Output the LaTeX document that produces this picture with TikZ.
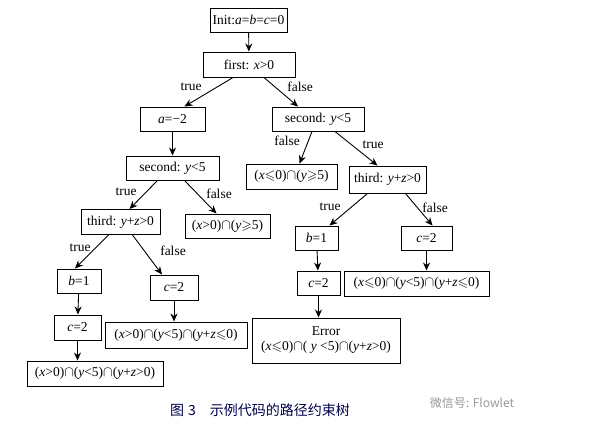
\documentclass[tikz,border=0pt]{standalone}
\usepackage{amssymb}
\usepackage{fontspec}
\setmainfont{Liberation Serif}
\newfontfamily\cjk{Noto Sans CJK SC}
\usetikzlibrary{arrows.meta}
\newcommand{\vi}[1]{\textit{#1}}
\newcommand{\myle}{\ensuremath{\leqslant}}
\newcommand{\myge}{\ensuremath{\geqslant}}
\newcommand{\mycap}{\ensuremath{\cap}}
\begin{document}
\begin{tikzpicture}[x=1pt,y=-1pt,
  box/.style={draw,line width=1pt,minimum height=24pt,inner sep=1pt,font=\fontsize{13.5}{15}\selectfont},
  arr/.style={-{Stealth[length=8pt,width=7pt]},line width=0.9pt},
  lab/.style={font=\fontsize{13.5}{15}\selectfont}]
\useasboundingbox (0,0) rectangle (600,437);
\node[box,minimum width=77pt] (init) at (248.5,20) {Init:\vi{a}=\vi{b}=\vi{c}=0};
\node[box,minimum width=92pt,minimum height=25pt] (first) at (249,64.5) {first: \vi{x}>0};
\node[box,minimum width=65pt] (am2) at (172.5,119) {\vi{a}=−2};
\node[box,minimum width=92pt] (secR) at (318,119) {second: \vi{y}<5};
\node[box,minimum width=93pt] (secL) at (172.5,168) {second: \vi{y}<5};
\node[box,minimum width=91pt,minimum height=25pt] (rA) at (291.5,176.5) {(\vi{x}\myle0)\mycap(\vi{y}\myge5)};
\node[box,minimum width=77pt,minimum height=27pt] (thR) at (387.5,179.5) {third: \vi{y}+\vi{z}>0};
\node[box,minimum width=79pt,minimum height=25pt] (thL) at (120.5,222) {third: \vi{y}+\vi{z}>0};
\node[box,minimum width=85pt] (lA) at (227.5,226) {(\vi{x}>0)\mycap(\vi{y}\myge5)};
\node[box,minimum width=43pt] (bR) at (316.5,238) {\vi{b}=1};
\node[box,minimum width=51pt] (cRf) at (426.5,238) {\vi{c}=2};
\node[box,minimum width=44pt] (bL) at (79,281) {\vi{b}=1};
\node[box,minimum width=48pt,minimum height=25pt] (cLf) at (174,287.5) {\vi{c}=2};
\node[box,minimum width=43pt] (cR) at (318.5,283) {\vi{c}=2};
\node[box,minimum width=145pt,minimum height=25pt] (rB) at (416.5,283.5) {(\vi{x}\myle0)\mycap(\vi{y}<5)\mycap(\vi{y}+\vi{z}\myle0)};
\node[box,minimum width=47pt,minimum height=25pt] (cL) at (77.5,327.5) {\vi{c}=2};
\node[box,minimum width=142pt,minimum height=26pt] (lB) at (176,335) {(\vi{x}>0)\mycap(\vi{y}<5)\mycap(\vi{y}+\vi{z}\myle0)};
\node[box,minimum width=148pt,minimum height=45pt,align=center] (err) at (326,340.5) {Error\\(\vi{x}\myle0)\mycap( \vi{y} <5)\mycap(\vi{y}+\vi{z}>0)};
\node[box,minimum width=136pt,minimum height=25pt] (lC) at (95,373.5) {(\vi{x}>0)\mycap(\vi{y}<5)\mycap(\vi{y}+\vi{z}>0)};
\draw[arr] (init) -- (first);
\draw[arr] ([xshift=-16pt]first.south) -- ([xshift=12pt]am2.north);
\draw[arr] ([xshift=15pt]first.south) -- ([xshift=-20pt]secR.north);
\draw[arr] (am2) -- (secL);
\draw[arr] ([xshift=-6pt]secR.south) -- ([xshift=8pt]rA.north);
\draw[arr] ([xshift=17pt]secR.south) -- ([xshift=-10pt]thR.north);
\draw[arr] ([xshift=-15pt]secL.south) -- ([xshift=9pt]thL.north);
\draw[arr] ([xshift=12pt]secL.south) -- ([xshift=-11pt]lA.north);
\draw[arr] ([xshift=-20pt]thR.south) -- ([xshift=13pt]bR.north);
\draw[arr] ([xshift=18pt]thR.south) -- ([xshift=6pt]cRf.north);
\draw[arr] ([xshift=-12pt]thL.south) -- ([xshift=-4pt]bL.north);
\draw[arr] ([xshift=12pt]thL.south) -- ([xshift=-12pt]cLf.north);
\draw[arr] (bR) -- (cR);
\draw[arr] (cRf.south) -- (cRf.south |- rB.north);
\draw[arr] (bL) -- (cL);
\draw[arr] (cLf.south) -- (cLf.south |- lB.north);
\draw[arr] (cR.south) -- (cR.south |- err.north);
\draw[arr] (cL.south) -- (cL.south |- lC.north);
\node[lab] (t1) at (191,87) {true};
\node[lab] (f1) at (300,87) {false};
\node[lab] (f2) at (287,141) {false};
\node[lab] (t2) at (373,145) {true};
\node[lab] (t3) at (126,192) {true};
\node[lab] (f3) at (219,194) {false};
\node[lab] (t4) at (330,207) {true};
\node[lab] (f4) at (435,208) {false};
\node[lab] (t5) at (80,248) {true};
\node[lab] (f5) at (173,251) {false};
\node[font=\cjk\fontsize{14}{15}\selectfont,text=black!70!blue] (cap) at (260,410) {图\;3\quad 示例代码的路径约束树};
\node[font=\cjk\fontsize{12}{13}\selectfont,text=black!40] (wm) at (472,403) {微信号: Flowlet};
\end{tikzpicture}
\end{document}
